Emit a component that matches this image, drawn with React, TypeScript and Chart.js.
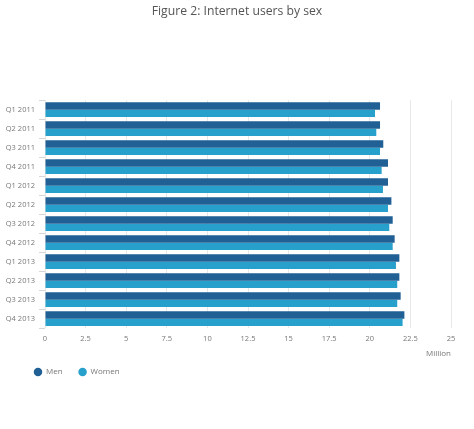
import { useEffect, useRef } from "react";
import { Chart, registerables, type ChartConfiguration, type Plugin } from "chart.js";

Chart.register(...registerables);

const QUARTERS = [
  "Q1 2011", "Q2 2011", "Q3 2011", "Q4 2011",
  "Q1 2012", "Q2 2012", "Q3 2012", "Q4 2012",
  "Q1 2013", "Q2 2013", "Q3 2013", "Q4 2013",
];
const MEN = [20.63, 20.63, 20.83, 21.12, 21.12, 21.33, 21.41, 21.53, 21.82, 21.82, 21.9, 22.13];
const WOMEN = [20.32, 20.4, 20.63, 20.73, 20.81, 21.12, 21.2, 21.41, 21.61, 21.69, 21.69, 22.02];
const X_MAX = 25;
const X_STEP = 2.5;

const FONT = "'Open Sans', 'DejaVu Sans', sans-serif";
const TEXT = "#777777";

// the legend starts further right than the y labels and the title is
// centred on the whole canvas, so nudge both once layout is done
const nudgeBoxes: Plugin<"bar"> = {
  id: "nudgeBoxes",
  afterLayout(chart) {
    const legend = chart.legend;
    if (legend) legend.left += 14;
    const title = (chart as any).titleBlock;
    if (title) {
      const shift = chart.width / 2 - (title.left + title.right) / 2;
      title.left += shift;
      title.right += shift;
    }
  },
};

export default function App() {
  const canvasRef = useRef<HTMLCanvasElement>(null);

  useEffect(() => {
    const ctx = canvasRef.current?.getContext("2d");
    if (!ctx) return;

    const config: ChartConfiguration<"bar"> = {
      type: "bar",
      data: {
        labels: QUARTERS,
        datasets: [
          { label: "Men", data: MEN, backgroundColor: "#206095", borderWidth: 0 },
          { label: "Women", data: WOMEN, backgroundColor: "#27a0cc", borderWidth: 0 },
        ],
      },
      options: {
        indexAxis: "y",
        responsive: true,
        maintainAspectRatio: false,
        animation: false,
        datasets: { bar: { categoryPercentage: 0.78, barPercentage: 1 } },
        layout: { padding: { left: 4, right: 23, top: 0, bottom: 43 } },
        scales: {
          x: {
            min: 0,
            max: X_MAX,
            border: { display: false },
            grid: { color: "#e8e8e8", drawTicks: false },
            ticks: {
              stepSize: X_STEP,
              padding: 6.5,
              color: TEXT,
              font: { family: FONT, size: 7.5, lineHeight: 1.2 },
            },
            title: {
              display: true,
              text: "Million",
              align: "end",
              color: TEXT,
              font: { family: FONT, size: 8, lineHeight: 1.2 },
              padding: { top: -1.5, bottom: -6.3 },
            },
          },
          y: {
            border: { display: false },
            grid: { drawOnChartArea: false, color: "#d6d6d6", tickLength: 6 },
            ticks: {
              padding: 4,
              color: TEXT,
              font: { family: FONT, size: 7.5, lineHeight: 1.2 },
            },
            afterFit: (scale) => {
              scale.width = 41;
            },
          },
        },
        plugins: {
          title: {
            display: true,
            text: "Figure 2: Internet users by sex",
            color: "#555555",
            font: { family: FONT, size: 12.2, weight: "normal", lineHeight: 1.2 },
            padding: { top: 4.5, bottom: 81 },
          },
          legend: {
            position: "bottom",
            align: "start",
            labels: {
              usePointStyle: true,
              pointStyle: "circle",
              boxWidth: 8,
              boxHeight: 6,
              padding: 16,
              color: TEXT,
              font: { family: FONT, size: 8, lineHeight: 1.2 },
            },
          },
          tooltip: { enabled: false },
        },
      },
      plugins: [nudgeBoxes],
    };

    const chart = new Chart(ctx, config);
    return () => chart.destroy();
  }, []);

  return (
    <div style={{ position: "fixed", left: 0, top: 0, width: 474, height: 429, background: "#fff" }}>
      <canvas ref={canvasRef} />
    </div>
  );
}
